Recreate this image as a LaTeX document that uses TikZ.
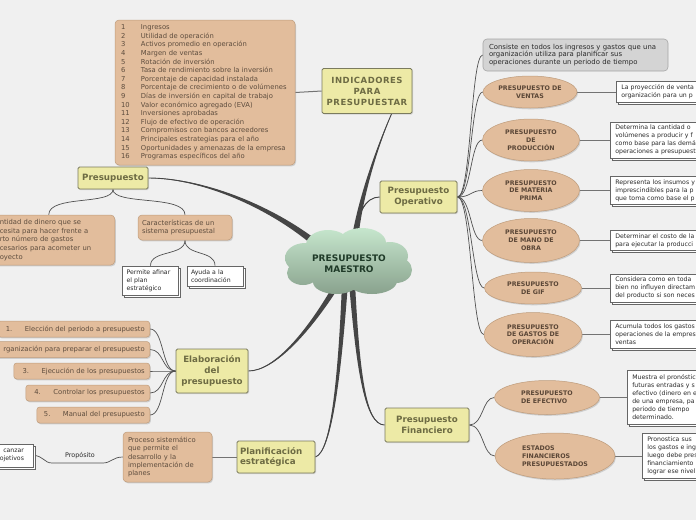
\documentclass[tikz,border=0pt]{standalone}
\usepackage{fontspec}
\setmainfont{DejaVu Sans}
\usetikzlibrary{shapes.geometric,shadows,calc}
\definecolor{bgc}{HTML}{F0F0F0}
\definecolor{yfill}{HTML}{EDEAA6}
\definecolor{ybord}{HTML}{7B7B5E}
\definecolor{ytext}{HTML}{6D6B43}
\definecolor{tanc}{HTML}{E2BD9C}
\definecolor{tanbord}{HTML}{BE9C7C}
\definecolor{tantext}{HTML}{5E4D3E}
\definecolor{elltext}{HTML}{5A4636}
\definecolor{wbord}{HTML}{666666}
\definecolor{wtext}{HTML}{2A2A2A}
\definecolor{grayfill}{HTML}{D4D4D4}
\definecolor{graybord}{HTML}{A6A6A6}
\definecolor{branchc}{HTML}{454545}
\definecolor{conncol}{HTML}{505050}
\definecolor{cloudtop}{HTML}{C6E6CD}
\definecolor{cloudbot}{HTML}{89A28D}
\definecolor{cloudtext}{HTML}{1F3A28}
\pgfdeclarelayer{bgl}
\pgfdeclarelayer{edges}
\pgfsetlayers{bgl,edges,main}
\newcommand{\mybranch}[5]{%
  \fill[branchc] ($#1+#5$) .. controls ($#2+0.5*#5$) and ($#3+0.2*#5$) .. #4 .. controls ($#3-0.2*#5$) and ($#2-0.5*#5$) .. ($#1-#5$) -- cycle;
  \draw[branchc, line width=0.9pt] #1 .. controls #2 and #3 .. #4;}
\newcommand{\myitem}[2]{\makebox[20pt][l]{#1}#2}
\begin{document}
\begin{tikzpicture}[x=1pt,y=-1pt,
  ybox/.style={draw=ybord, fill=yfill, line width=0.8pt, rounded corners=1.5pt, text=ytext,
    font=\fontsize{8.7}{10.6}\selectfont\bfseries, align=center, inner sep=0pt,
    drop shadow={shadow xshift=1pt, shadow yshift=-1pt, opacity=0.25}},
  tbox/.style={draw=tanbord, line width=0.5pt, fill=tanc, rounded corners=4pt, text=tantext,
    font=\fontsize{6.8}{8.6}\selectfont, inner ysep=0pt,
    drop shadow={shadow xshift=1pt, shadow yshift=-1.3pt, opacity=0.3}},
  ell/.style={ellipse, draw=tanbord, line width=0.5pt, fill=tanc, text=elltext,
    font=\fontsize{6.3}{7.8}\selectfont\bfseries, align=center, inner sep=0pt,
    drop shadow={shadow xshift=1pt, shadow yshift=-1.3pt, opacity=0.3}},
  wbox/.style={draw=wbord, line width=0.6pt, fill=white, text=wtext,
    font=\fontsize{6.2}{8}\selectfont, align=left, inner ysep=0pt, inner xsep=4pt,
    copy shadow={shadow xshift=2pt, shadow yshift=-2pt}},
  graybox/.style={draw=graybord, line width=0.6pt, fill=grayfill, rounded corners=4pt, text=wtext,
    font=\fontsize{6.9}{7.8}\selectfont, inner ysep=0pt},
  conn/.style={draw=conncol, line width=0.7pt},
  hconn/.style={draw=conncol!80, line width=1pt}]
\useasboundingbox (0,0) rectangle (696,520);
\begin{pgfonlayer}{bgl}
\fill[bgc] (0,0) rectangle (696,520);
\end{pgfonlayer}

% cloud
\shade[top color=cloudtop, bottom color=cloudbot]
  (352,262) ellipse [x radius=48, y radius=24]
  (305,258) ellipse [x radius=20, y radius=15]
  (328,245) ellipse [x radius=22, y radius=15]
  (362,243) ellipse [x radius=24, y radius=15]
  (390,256) ellipse [x radius=18, y radius=14]
  (396,270) ellipse [x radius=16, y radius=13]
  (372,281) ellipse [x radius=25, y radius=13]
  (336,282) ellipse [x radius=23, y radius=12]
  (303,273) ellipse [x radius=16, y radius=12];
\node[font=\fontsize{9}{10.7}\selectfont\bfseries, text=cloudtext, align=center] (maestro) at (349,264) {PRESUPUESTO\\MAESTRO};

% top
\node[ybox, minimum width=90pt, minimum height=45pt, font=\fontsize{8.5}{11}\selectfont\bfseries\addfontfeatures{LetterSpace=6}] (ind) at (367,91) {INDICADORES\\PARA\\PRESUPUESTAR};
\node[tbox, text width=168pt, inner xsep=6pt, align=left, minimum height=145pt] (lista) at (205,92.5) {%
\myitem{1}{Ingresos}\\
\myitem{2}{Utilidad de operación}\\
\myitem{3}{Activos promedio en operación}\\
\myitem{4}{Margen de ventas}\\
\myitem{5}{Rotación de inversión}\\
\myitem{6}{Tasa de rendimiento sobre la inversión}\\
\myitem{7}{Porcentaje de capacidad instalada}\\
\myitem{8}{Porcentaje de crecimiento o de volúmenes}\\
\myitem{9}{Días de inversión en capital de trabajo}\\
\myitem{10}{Valor económico agregado (EVA)}\\
\myitem{11}{Inversiones aprobadas}\\
\myitem{12}{Flujo de efectivo de operación}\\
\myitem{13}{Compromisos con bancos acreedores}\\
\myitem{14}{Principales estrategias para el año}\\
\myitem{15}{Oportunidades y amenazas de la empresa}\\
\myitem{16}{Programas específicos del año}};

% right: operativo
\node[graybox, text width=173pt, inner xsep=6pt, minimum height=32pt, align=left] (cons) at (575.5,55) {Consiste en todos los ingresos y gastos que una\\organización utiliza para planificar sus\\operaciones durante un periodo de tiempo};
\node[ybox, minimum width=77pt, minimum height=32pt] (oper) at (418.5,197) {Presupuesto\\Operativo};
\node[ell, minimum width=94pt, minimum height=32pt] (ven) at (530,92) {PRESUPUESTO DE\\VENTAS};
\node[ell, minimum width=97pt, minimum height=42pt] (prod) at (531,140) {PRESUPUESTO\\DE\\PRODUCCIÓN};
\node[ell, minimum width=97pt, minimum height=42pt] (mat) at (531,190.5) {PRESUPUESTO\\DE MATERIA\\PRIMA};
\node[ell, minimum width=97pt, minimum height=44pt] (mano) at (531,240.5) {PRESUPUESTO\\DE MANO DE\\OBRA};
\node[ell, minimum width=97pt, minimum height=32pt] (gif) at (533,288) {PRESUPUESTO\\DE GIF};
\node[ell, minimum width=98pt, minimum height=44pt] (gas) at (533,334.5) {PRESUPUESTO\\DE GASTOS DE\\OPERACIÓN};

\node[wbox, anchor=west, minimum width=110pt, text width=100pt, minimum height=21pt] (wv) at (616,92) {La proyección de venta\\organización para un p};
\node[wbox, anchor=west, minimum width=110pt, text width=100pt, minimum height=36pt] (wp) at (610,140) {Determina la cantidad o\\volúmenes a producir y f\\como base para las demá\\operaciones a presupuest};
\node[wbox, anchor=west, minimum width=110pt, text width=100pt, minimum height=28pt] (wm) at (610,190.5) {Representa los insumos y\\imprescindibles para la p\\que toma como base el p};
\node[wbox, anchor=west, minimum width=110pt, text width=100pt, minimum height=20pt] (wmo) at (610,240.5) {Determinar el costo de la\\para ejecutar la producci};
\node[wbox, anchor=west, minimum width=110pt, text width=100pt, minimum height=28pt] (wg) at (610,288) {Considera como en toda\\bien no influyen directam\\del producto si son neces};
\node[wbox, anchor=west, minimum width=110pt, text width=100pt, minimum height=28pt] (wgo) at (610,334.5) {Acumula todos los gastos\\operaciones de la empres\\ventas};

% right: financiero
\node[ybox, minimum width=84pt, minimum height=34pt] (fin) at (427,425) {Presupuesto\\Financiero};
\node[ell, minimum width=105pt, minimum height=34pt, align=left] (efe) at (547,397.5) {PRESUPUESTO\\DE EFECTIVO};
\node[ell, minimum width=120pt, minimum height=46pt, align=left] (est) at (555,456) {ESTADOS\\FINANCIEROS\\PRESUPUESTADOS};
\node[wbox, anchor=west, minimum width=110pt, text width=100pt, minimum height=54pt] (we) at (627,397.5) {Muestra el pronóstic\\futuras entradas y s\\efectivo (dinero en e\\de una empresa, pa\\periodo de tiempo\\determinado.};
\node[wbox, anchor=west, minimum width=110pt, text width=100pt, minimum height=45pt] (wes) at (642,456) {Pronostica sus\\los gastos e ing\\luego debe pres\\financiamiento\\lograr ese nivel};

% left: presupuesto
\node[ybox, minimum width=70pt, minimum height=22pt] (pres) at (113,178) {Presupuesto};
\node[tbox, anchor=east, minimum width=130pt, minimum height=50pt, text width=100pt, inner xsep=15pt, align=left] (cant) at (115,240) {ntidad de dinero que se\\cesita para hacer frente a\\rto número de gastos\\cesarios para acometer un\\oyecto};
\node[tbox, minimum width=94pt, minimum height=25pt, text width=86pt, inner xsep=4pt, align=left] (carac) at (185,227.5) {Características de un\\sistema presupuestal};
\node[wbox, minimum width=56pt, minimum height=29pt, text width=48pt] (perm) at (150.5,280.5) {Permite afinar\\el plan\\estratégico};
\node[wbox, minimum width=56pt, minimum height=20pt, text width=48pt] (ayuda) at (215,276) {Ayuda a la\\coordinación};

% left: elaboracion
\node[ybox, minimum width=72pt, minimum height=44pt, font=\fontsize{8.7}{11}\selectfont\bfseries] (elab) at (212,371) {Elaboración\\del\\presupuesto};
\node[tbox, rounded corners=3pt, anchor=east, minimum width=152pt, minimum height=16pt, text width=142pt, inner xsep=5pt, align=right] (p1) at (150,329) {\makebox[19pt][l]{1.}Elección del periodo a presupuesto};
\node[tbox, rounded corners=3pt, anchor=east, minimum width=165pt, minimum height=16pt, text width=155pt, inner xsep=5pt, align=right] (p2) at (150,349.5) {rganización para preparar el presupuesto};
\node[tbox, rounded corners=3pt, anchor=east, minimum width=136pt, minimum height=16pt, text width=126pt, inner xsep=5pt, align=right] (p3) at (150,371) {\makebox[19pt][l]{3.}Ejecución de los presupuestos};
\node[tbox, rounded corners=3pt, anchor=east, minimum width=124pt, minimum height=16pt, text width=114pt, inner xsep=5pt, align=right] (p4) at (150,393) {\makebox[19pt][l]{4.}Controlar los presupuestos};
\node[tbox, rounded corners=3pt, anchor=east, minimum width=113pt, minimum height=16pt, text width=103pt, inner xsep=5pt, align=right] (p5) at (150,415) {\makebox[19pt][l]{5.}Manual del presupuesto};

% bottom: planificacion
\node[ybox, minimum width=78pt, minimum height=32pt, text width=72pt, inner xsep=3pt, align=left] (plan) at (276,457) {Planificación\\estratégica};
\node[tbox, minimum width=89pt, minimum height=50pt, text width=79pt, inner xsep=5pt, align=left, font=\fontsize{6.8}{8.3}\selectfont] (proc) at (167.5,457) {Proceso sistemático\\que permite el\\desarrollo y la\\implementación de\\planes};
\node[wbox, minimum width=53pt, minimum height=23pt, text width=35pt, inner xsep=9pt, align=right] (alc) at (6.5,455.5) {canzar\\ojetivos};
\node[font=\fontsize{6.4}{7.5}\selectfont, text=wtext] (prop) at (80,456) {Propósito};

\begin{pgfonlayer}{edges}
% main branches
\mybranch{($(maestro)+(5,-19)$)}{(360,195)}{(380,140)}{(ind.-43)}{(3.5,0)}
\mybranch{($(maestro)+(3,-19)$)}{(357,212)}{(366,197)}{(oper.west)}{(1.5,0)}
\mybranch{($(maestro)+(-29,-17)$)}{(270,205)}{(200,178)}{(pres.east)}{(1.8,-3)}
\mybranch{($(maestro)+(-11,19)$)}{(310,330)}{(275,371)}{(elab.east)}{(2.5,1.6)}
\mybranch{($(maestro)+(-4,19)$)}{(340,370)}{(332,452)}{(plan.east)}{(3,0)}
\mybranch{($(maestro)+(3,19)$)}{(358,370)}{(365,425)}{(fin.west)}{(3,0)}
% operativo
\foreach \t in {cons,ven,prod,mat,mano,gif,gas}
  \draw[conn] (oper.east) .. controls +(14,0) and +(-12,0) .. (\t.west);
\draw[hconn] (ven.east) -- (wv.west);
\draw[hconn] (prod.east) -- (wp.west);
\draw[hconn] (mat.east) -- (wm.west);
\draw[hconn] (mano.east) -- (wmo.west);
\draw[hconn] (gif.east) -- (wg.west);
\draw[hconn] (gas.east) -- (wgo.west);
% financiero
\draw[conn] (fin.east) .. controls +(14,0) and +(-12,0) .. (efe.west);
\draw[conn] (fin.east) .. controls +(14,0) and +(-12,0) .. (est.west);
\draw[hconn] (efe.east) -- (we.west);
\draw[hconn] (est.east) -- (wes.west);
% indicadores
\draw[hconn] (lista.east) -- (ind.west);
% presupuesto
\draw[conn] (pres.south) .. controls +(0,16) and +(0,-20) .. ([xshift=-1pt]cant.north);
\draw[conn] (pres.south) .. controls +(0,16) and +(0,-20) .. (carac.north);
\draw[conn] (carac.south) .. controls +(0,16) and +(0,-16) .. (perm.north);
\draw[conn] (carac.south) .. controls +(0,16) and +(0,-16) .. (ayuda.north);
% elaboracion
\foreach \p in {p1,p2,p3,p4,p5}
  \draw[conn] (\p.east) .. controls +(14,0) and +(-14,0) .. (elab.west);
% planificacion
\draw[hconn] (proc.east) -- (plan.west);
\draw[conn] (alc.east) .. controls +(10,0) and +(-8,0) .. (52,463) -- (103,463) .. controls +(8,0) and +(-10,0) .. (proc.west);
\end{pgfonlayer}
\end{tikzpicture}
\end{document}
